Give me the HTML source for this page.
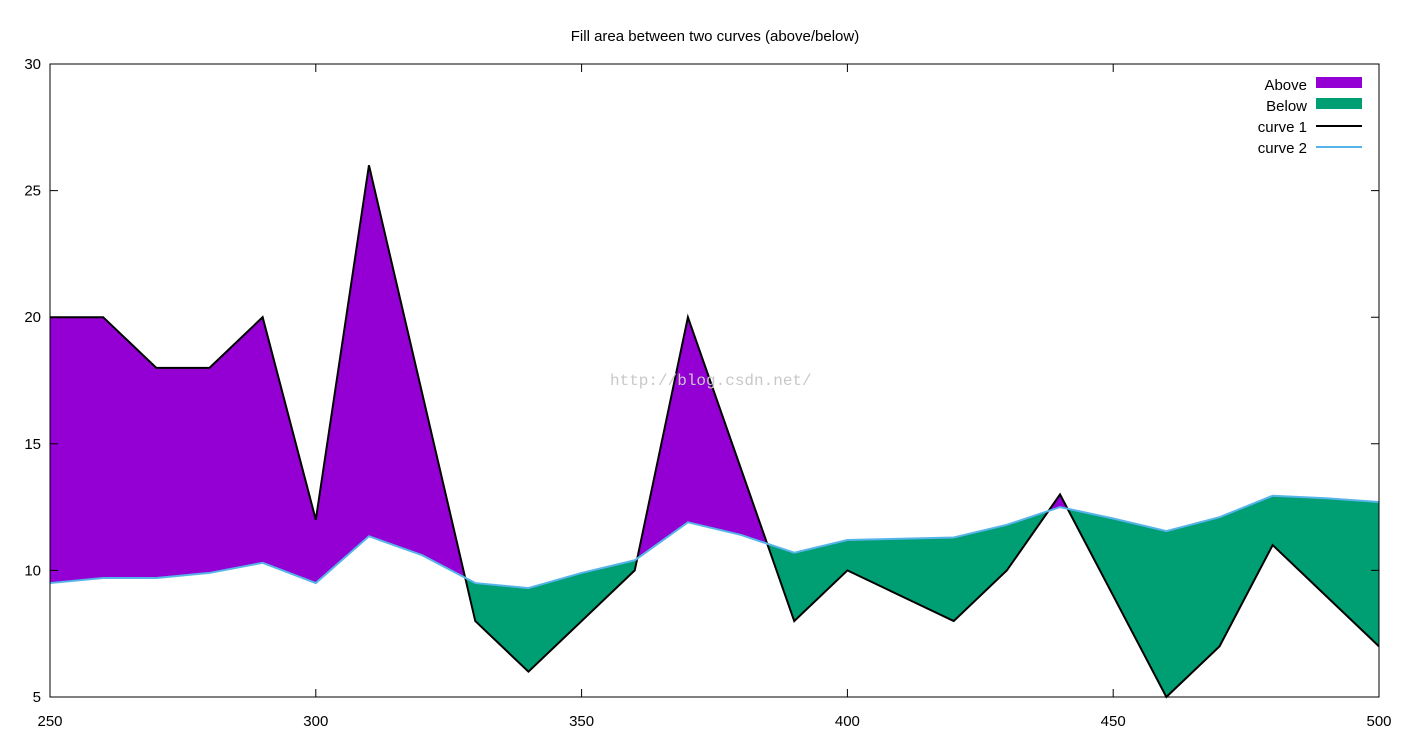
<!DOCTYPE html>
<html><head><meta charset="utf-8"><style>
body{margin:0;background:#fff;}
svg{display:block;font-family:"Liberation Sans",sans-serif;}
</style></head><body>
<svg id="chart" width="1406" height="738" viewBox="0 0 1406 738" xmlns="http://www.w3.org/2000/svg">
<text x="715" y="41" font-size="15" text-anchor="middle" fill="#000">Fill area between two curves (above/below)</text>
<defs>
<clipPath id="aboveClip"><path id="aboveClipPath" d=""/></clipPath>
<clipPath id="belowClip"><path id="belowClipPath" d=""/></clipPath>
</defs>
<g id="fills"></g>
<g id="lines"></g>
<rect x="50" y="64" width="1329" height="633" fill="none" stroke="#000" stroke-width="1"/>
<g id="axes"></g>
<text x="610" y="385" font-family="Liberation Mono,monospace" font-size="16" fill="#c8c8c8">http://blog.csdn.net/</text>
<g id="legend" font-size="15">
<text x="1307" y="90" text-anchor="end">Above</text>
<rect x="1316" y="77" width="46" height="11" fill="#9400d3"/>
<text x="1307" y="111" text-anchor="end">Below</text>
<rect x="1316" y="98" width="46" height="11" fill="#009e73"/>
<text x="1307" y="132" text-anchor="end">curve 1</text>
<line x1="1316" y1="126" x2="1362" y2="126" stroke="#000" stroke-width="2"/>
<text x="1307" y="153" text-anchor="end">curve 2</text>
<line x1="1316" y1="147" x2="1362" y2="147" stroke="#56b4e9" stroke-width="2"/>
</g>
</svg>
<script>
const xValues=[250,260,270,280,290,300,310,320,330,340,350,360,370,380,390,400,410,420,430,440,450,460,470,480,490,500];
const curve1=[20,20,18,18,20,12,26,17,8,6,8,10,20,14,8,10,9,8,10,13,9,5,7,11,9,7];
const curve2=[9.5,9.7,9.7,9.9,10.3,9.5,11.35,10.6,9.5,9.3,9.9,10.4,11.9,11.4,10.7,11.2,11.25,11.3,11.8,12.5,12.05,11.55,12.1,12.95,12.85,12.7];
const xTicks=[250,300,350,400,450,500];
const yTicks=[5,10,15,20,25,30];
const X0=50,X1=1379,Y0=697,Y1=64;
const sx=v=>X0+(v-250)/(500-250)*(X1-X0);
const sy=v=>Y0-(v-5)/(30-5)*(Y0-Y1);
const NS="http://www.w3.org/2000/svg";
const pts=a=>a.map((v,i)=>sx(xValues[i]).toFixed(2)+","+sy(v).toFixed(2));
const c1=pts(curve1),c2=pts(curve2);
document.getElementById('aboveClipPath').setAttribute('d',"M"+c2.join(" L")+" L"+X1+","+Y1+" L"+X0+","+Y1+" Z");
document.getElementById('belowClipPath').setAttribute('d',"M"+c2.join(" L")+" L"+X1+","+Y0+" L"+X0+","+Y0+" Z");
const between="M"+c1.join(" L")+" L"+c2.slice().reverse().join(" L")+" Z";
const fills=document.getElementById('fills');
const pa=document.createElementNS(NS,'path');


pa.setAttribute('d',between);pa.setAttribute('fill','#9400d3');pa.setAttribute('clip-path','url(#aboveClip)');
fills.appendChild(pa);
const pb=document.createElementNS(NS,'path');


pb.setAttribute('d',between);pb.setAttribute('fill','#009e73');pb.setAttribute('clip-path','url(#belowClip)');
fills.appendChild(pb);
const lines=document.getElementById('lines');
const l1=document.createElementNS(NS,'polyline');


l1.setAttribute('points',c1.join(" "));l1.setAttribute('fill','none');l1.setAttribute('stroke','#000');l1.setAttribute('stroke-width','2');
lines.appendChild(l1);
const l2=document.createElementNS(NS,'polyline');


l2.setAttribute('points',c2.join(" "));l2.setAttribute('fill','none');l2.setAttribute('stroke','#56b4e9');l2.setAttribute('stroke-width','2');
lines.appendChild(l2);
const axes=document.getElementById('axes');
xTicks.forEach(t=>{
  const x=sx(t);
  const tk=document.createElementNS(NS,'path');
  
  
  tk.setAttribute('d',`M${x},${Y0} v-8 M${x},${Y1} v8`);tk.setAttribute('stroke','#000');
  axes.appendChild(tk);
  const tx=document.createElementNS(NS,'text');
  
  
  tx.setAttribute('x',x);tx.setAttribute('y',726);tx.setAttribute('text-anchor','middle');tx.setAttribute('font-size','15');
  tx.textContent=t;axes.appendChild(tx);
});
yTicks.forEach(t=>{
  const y=sy(t);
  const tk=document.createElementNS(NS,'path');
  
  
  tk.setAttribute('d',`M${X0},${y} h8 M${X1},${y} h-8`);tk.setAttribute('stroke','#000');
  axes.appendChild(tk);
  const tx=document.createElementNS(NS,'text');
  
  
  tx.setAttribute('x',41);tx.setAttribute('y',y+5);tx.setAttribute('text-anchor','end');tx.setAttribute('font-size','15');
  tx.textContent=t;axes.appendChild(tx);
});
</script>
</body></html>
